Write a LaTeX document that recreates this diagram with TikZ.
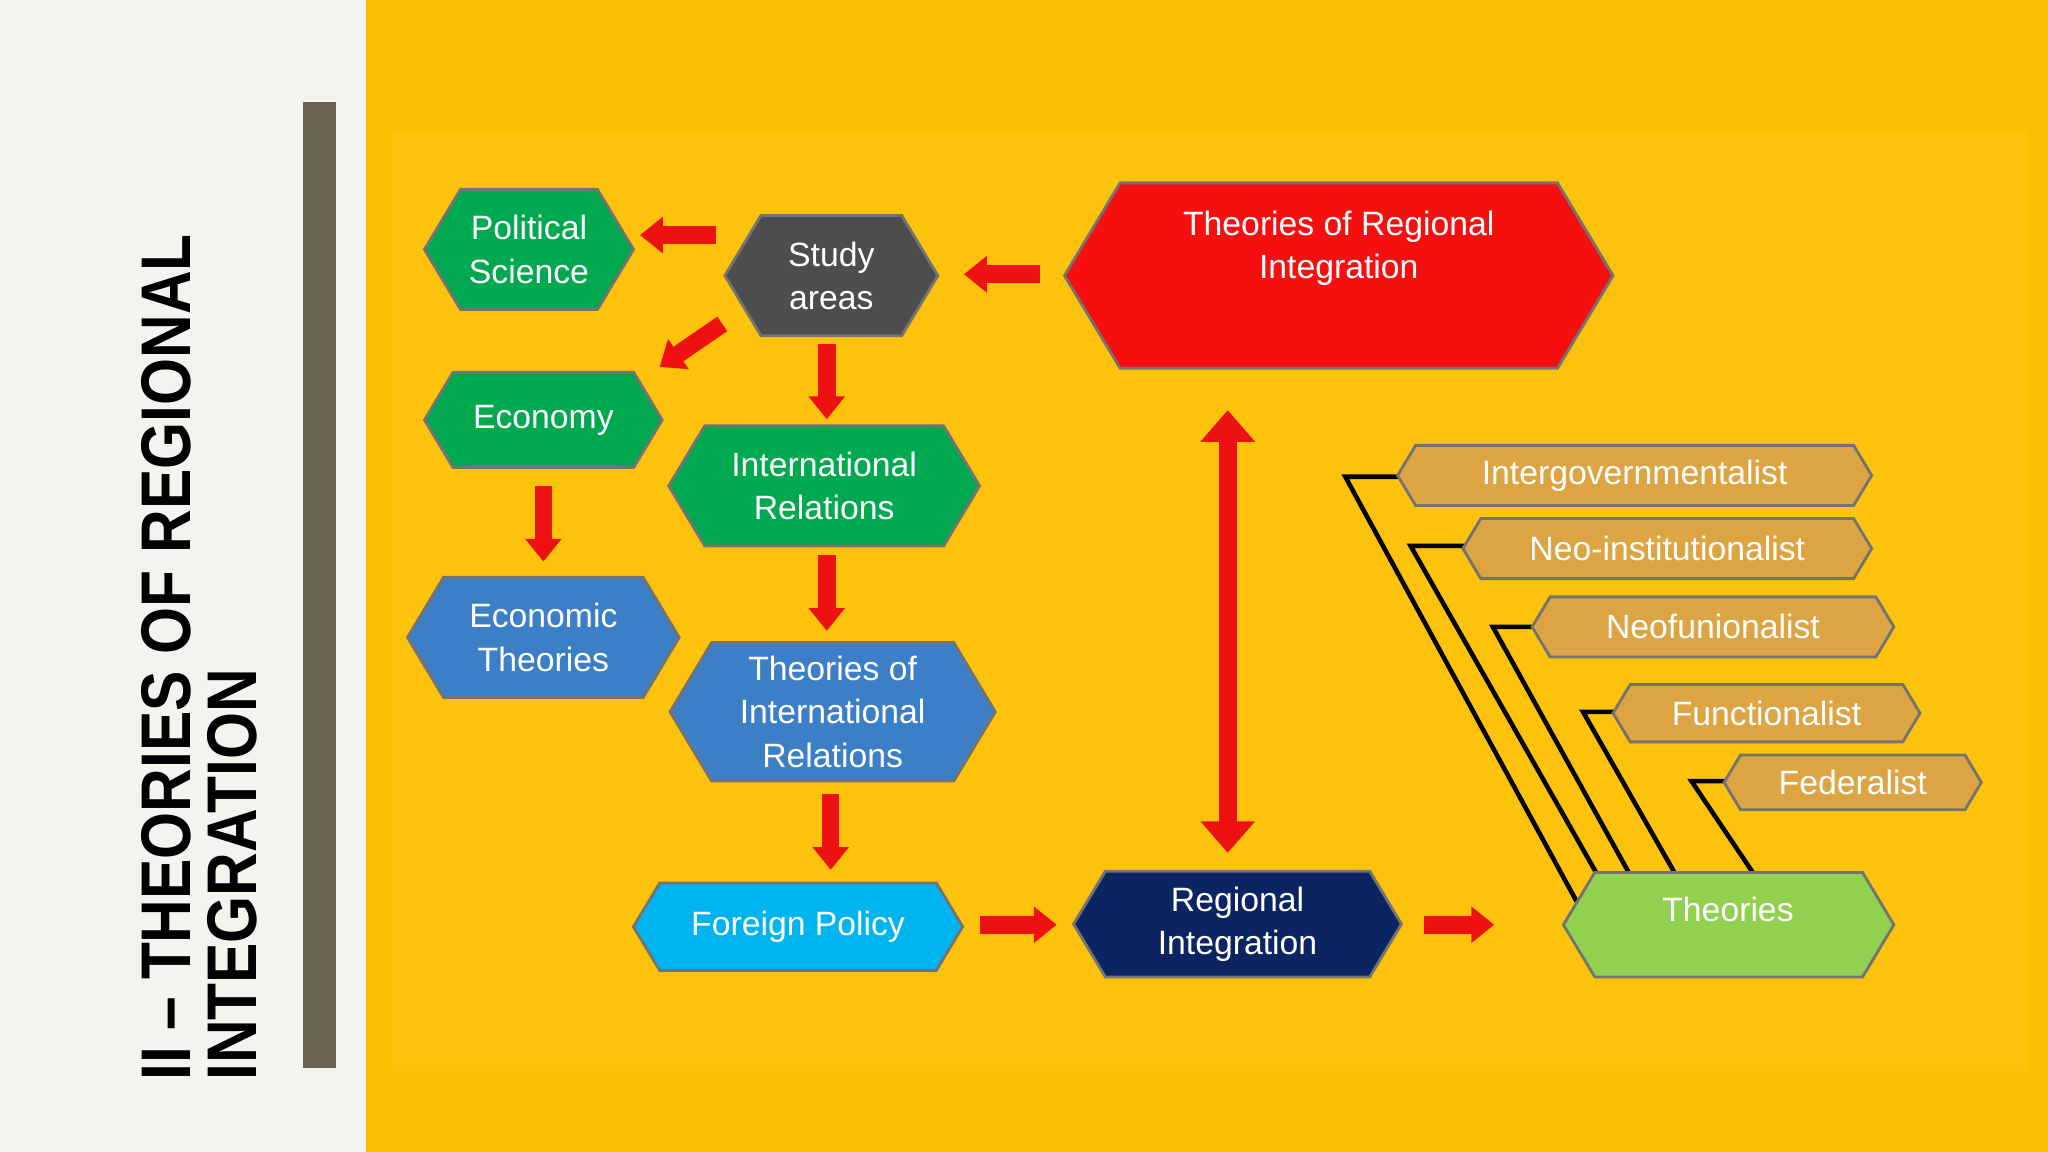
\documentclass[tikz,border=0pt]{standalone}
\usepackage{fontspec}
\setmainfont{Liberation Sans}
\usetikzlibrary{arrows.meta,calc}
\definecolor{bgL}{HTML}{F4F4EF}
\definecolor{bgO}{HTML}{FBBF00}
\definecolor{bgI}{HTML}{FDC30C}
\definecolor{barC}{HTML}{6B6450}
\definecolor{gr}{HTML}{00A94F}
\definecolor{dg}{HTML}{4D4D4D}
\definecolor{rd}{HTML}{F70F0F}
\definecolor{bl}{HTML}{3C7FC7}
\definecolor{cy}{HTML}{00B4F0}
\definecolor{nv}{HTML}{0C2461}
\definecolor{lg}{HTML}{92D050}
\definecolor{tn}{HTML}{DDA444}
\definecolor{ar}{HTML}{EE1111}
\tikzset{
  htext/.style={text=white,font=\fontsize{9.6}{12.3}\selectfont,align=center,inner sep=0pt},
  hexshape/.style={draw=black!55,line width=0.8pt},
  redarrow/.style={draw=ar,line width=5pt,-{Triangle[width=10pt,length=6.5pt]}},
  bigarrow/.style={draw=ar,line width=5pt,{Triangle[width=15pt,length=9pt]}-{Triangle[width=15pt,length=9pt]}},
  blk/.style={draw=black,line width=1.3pt},
  title/.style={rotate=90,anchor=west,inner sep=0pt,font=\fontsize{20}{24}\selectfont\bfseries},
}
% name,x1,y1,x2,y2,fill,text colour,text
\newcommand\hexa[8]{%
  \pgfmathsetmacro\hh{(#5-#3)}%
  \pgfmathsetmacro\ind{0.3*\hh}%
  \pgfmathsetmacro\my{(#3+#5)/2}%
  \fill[hexshape,fill=#6] (#2,\my) -- ({#2+\ind},#3) -- ({#4-\ind},#3) -- (#4,\my) -- ({#4-\ind},#5) -- ({#2+\ind},#5) -- cycle;
  \node[htext,text=#7] (#1) at ({(#2+#4)/2},\my) {#8};
}
\begin{document}
\begin{tikzpicture}[x=0.013061cm,y=-0.013061cm]
\useasboundingbox (0,0) rectangle (1568,882);
\fill[bgL] (0,0) rectangle (280,882);
\fill[bgO] (280,0) rectangle (1568,882);
\fill[bgI] (300,100) rectangle (1553,820);
\fill[barC] (232,78) rectangle (257,818);
\node[title] (t1) at (127,828) {\scalebox{0.86}[1]{II -- THEORIES OF REGIONAL}};
\node[title] (t2) at (178,828) {\scalebox{0.86}[1]{INTEGRATION}};

% black connector lines
\coordinate (a1) at (1030,365); \coordinate (a2) at (1080,418); \coordinate (a3) at (1143,480);
\coordinate (a4) at (1212,545); \coordinate (a5) at (1295,598);
\draw[blk] (1072,365) -- (a1) -- (1207,690);
\draw[blk] (1122,418) -- (a2) -- (1222,668);
\draw[blk] (1175,480) -- (a3) -- (1247,668);
\draw[blk] (1237,545) -- (a4) -- (1282,668);
\draw[blk] (1322,598) -- (a5) -- (1342,668);

\hexa{ps}{325}{145}{485}{237}{gr}{white}{Political\\Science}
\hexa{sa}{555}{165}{718}{257}{dg}{white}{Study\\areas}
\hexa{tri}{815}{140}{1235}{282}{rd}{white}{}
\node[htext] (trit) at (1025,190) {Theories of Regional\\Integration};
\hexa{ec}{325}{285}{507}{358}{gr}{white}{Economy}
\hexa{ir}{512}{326}{750}{418}{gr}{white}{International\\Relations}
\hexa{et}{312}{442}{520}{534}{bl}{white}{Economic\\Theories}
\hexa{tir}{513}{492}{762}{598}{bl}{white}{Theories of\\International\\Relations}
\hexa{fp}{485}{676}{737}{743}{cy}{white}{Foreign Policy}
\hexa{ri}{822}{667}{1073}{748}{nv}{white}{Regional\\Integration}
\hexa{th}{1197}{668}{1450}{748}{lg}{white}{}
\node[htext] (tht) at (1323,696) {Theories};
\hexa{ig}{1070}{341}{1433}{387}{tn}{white}{Intergovernmentalist}
\hexa{ni}{1120}{397}{1433}{443}{tn}{white}{Neo-institutionalist}
\hexa{nf}{1173}{457}{1450}{503}{tn}{white}{Neofunionalist}
\hexa{fu}{1235}{524}{1470}{568}{tn}{white}{Functionalist}
\hexa{fe}{1320}{578}{1517}{620}{tn}{white}{Federalist}

% red arrows
\draw[redarrow] (548,180) -- (490,180);
\draw[redarrow] (796,210) -- (738,210);
\draw[redarrow] (553,248) -- (505,281);
\draw[redarrow] (633,263) -- (633,321);
\draw[redarrow] (416,372) -- (416,430);
\draw[redarrow] (633,425) -- (633,483);
\draw[redarrow] (636,608) -- (636,666);
\draw[redarrow] (750,708) -- (809,708);
\draw[redarrow] (1090,708) -- (1144,708);
\draw[bigarrow] (940,314) -- (940,653);
\end{tikzpicture}
\end{document}
